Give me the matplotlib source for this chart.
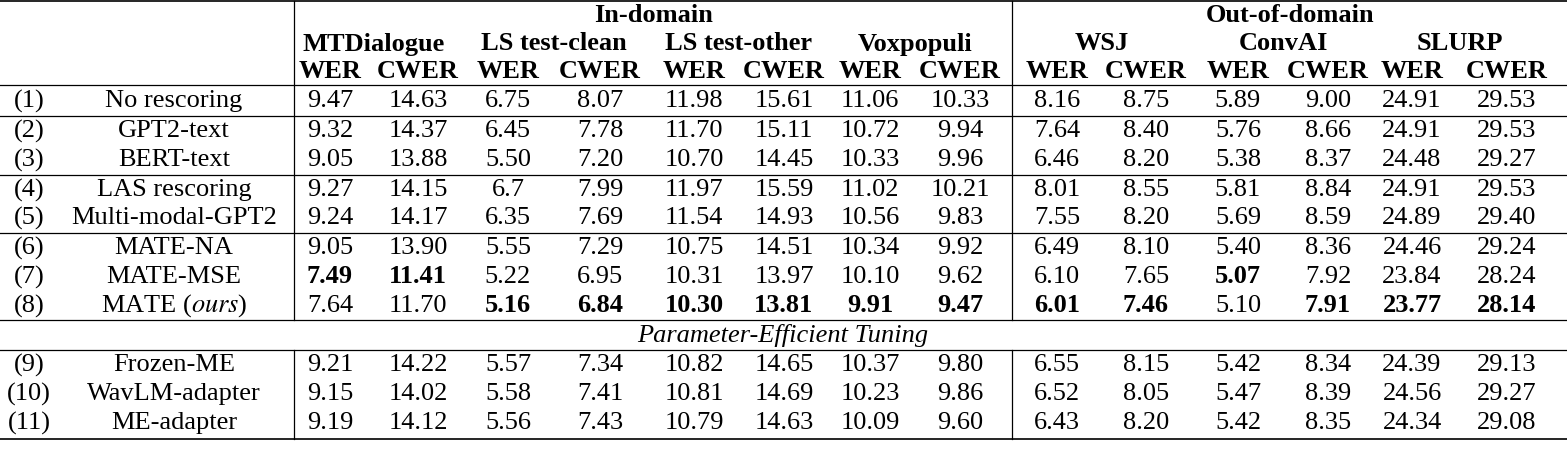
import matplotlib
matplotlib.use("Agg")
import matplotlib.pyplot as plt

groups = ["In-domain", "Out-of-domain"]
datasets = ["MTDialogue", "LS test-clean", "LS test-other", "Voxpopuli", "WSJ", "ConvAI", "SLURP"]
metrics = ["WER", "CWER"]
idx = ["(1)", "(2)", "(3)", "(4)", "(5)", "(6)", "(7)", "(8)", "(9)", "(10)", "(11)"]
names = ["No rescoring", "GPT2-text", "BERT-text", "LAS rescoring", "Multi-modal-GPT2",
         "MATE-NA", "MATE-MSE", "MATE ($\\it{ours}$)", "Frozen-ME", "WavLM-adapter", "ME-adapter"]
values = [
    ["9.47", "14.63", "6.75", "8.07", "11.98", "15.61", "11.06", "10.33", "8.16", "8.75", "5.89", "9.00", "24.91", "29.53"],
    ["9.32", "14.37", "6.45", "7.78", "11.70", "15.11", "10.72", "9.94", "7.64", "8.40", "5.76", "8.66", "24.91", "29.53"],
    ["9.05", "13.88", "5.50", "7.20", "10.70", "14.45", "10.33", "9.96", "6.46", "8.20", "5.38", "8.37", "24.48", "29.27"],
    ["9.27", "14.15", "6.7", "7.99", "11.97", "15.59", "11.02", "10.21", "8.01", "8.55", "5.81", "8.84", "24.91", "29.53"],
    ["9.24", "14.17", "6.35", "7.69", "11.54", "14.93", "10.56", "9.83", "7.55", "8.20", "5.69", "8.59", "24.89", "29.40"],
    ["9.05", "13.90", "5.55", "7.29", "10.75", "14.51", "10.34", "9.92", "6.49", "8.10", "5.40", "8.36", "24.46", "29.24"],
    ["7.49", "11.41", "5.22", "6.95", "10.31", "13.97", "10.10", "9.62", "6.10", "7.65", "5.07", "7.92", "23.84", "28.24"],
    ["7.64", "11.70", "5.16", "6.84", "10.30", "13.81", "9.91", "9.47", "6.01", "7.46", "5.10", "7.91", "23.77", "28.14"],
    ["9.21", "14.22", "5.57", "7.34", "10.82", "14.65", "10.37", "9.80", "6.55", "8.15", "5.42", "8.34", "24.39", "29.13"],
    ["9.15", "14.02", "5.58", "7.41", "10.81", "14.69", "10.23", "9.86", "6.52", "8.05", "5.47", "8.39", "24.56", "29.27"],
    ["9.19", "14.12", "5.56", "7.43", "10.79", "14.63", "10.09", "9.60", "6.43", "8.20", "5.42", "8.35", "24.34", "29.08"],
]
bold = {(6, 0), (6, 1), (6, 10), (7, 2), (7, 3), (7, 4), (7, 5), (7, 6), (7, 7),
        (7, 8), (7, 9), (7, 11), (7, 12), (7, 13)}
section = "Parameter-Efficient Tuning"

plt.rcParams['font.family'] = ['Liberation Serif', 'DejaVu Serif']
plt.rcParams['mathtext.fontset'] = 'stix'
fig = plt.figure(figsize=(15.67, 4.6), dpi=100)
ax = fig.add_axes([0, 0, 1, 1])
ax.set_xlim(0, 1567); ax.set_ylim(460, 0); ax.axis('off')
fs = 19

colx = [330, 418, 508, 600, 694, 784, 870, 960, 1057, 1146, 1238, 1328, 1412, 1507]
rowy = [101, 131, 160, 190, 218, 248, 277, 306, 365, 394, 423]

ax.text(654, 15, groups[0], ha='center', va='center', fontsize=fs, fontweight='bold')
ax.text(1290, 15, groups[1], ha='center', va='center', fontsize=fs, fontweight='bold')
for d, name in enumerate(datasets):
    cx = (colx[2 * d] + colx[2 * d + 1]) / 2
    ax.text(cx, 44, name, ha='center', va='center', fontsize=fs, fontweight='bold')
for j, x in enumerate(colx):
    ax.text(x, 71, metrics[j % 2], ha='center', va='center', fontsize=fs, fontweight='bold')

for i, y in enumerate(rowy):
    ax.text(29, y, idx[i], ha='center', va='center', fontsize=fs)
    ax.text(174, y, names[i], ha='center', va='center', fontsize=fs)
    for j, x in enumerate(colx):
        ax.text(x, y, values[i][j], ha='center', va='center', fontsize=fs,
                fontweight='bold' if (i, j) in bold else 'normal')
ax.text(783, 336, section, ha='center', va='center', fontsize=fs, style='italic')

for y in [2, 440]:
    ax.plot([0, 1567], [y, y], color='black', lw=1.2)
for y in [86, 117, 176, 234, 321, 351]:
    ax.plot([0, 1567], [y, y], color='black', lw=0.9)
for x in [294, 1012]:
    ax.plot([x, x], [2, 321], color='black', lw=0.9)
    ax.plot([x, x], [351, 440], color='black', lw=0.9)

fig.savefig("out.png", dpi=100)
